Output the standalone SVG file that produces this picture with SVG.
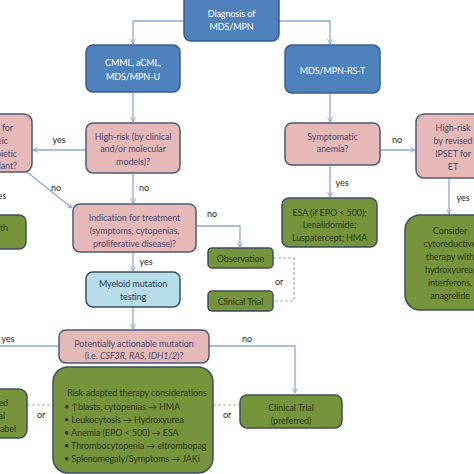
<svg xmlns="http://www.w3.org/2000/svg" width="474" height="474" viewBox="0 0 474 474">
<defs>
<style>
text{font-family:Lato,"Liberation Sans",sans-serif;font-size:9px;letter-spacing:-0.1px}
.blue rect{fill:#4F81BD;stroke:#385D8A;stroke-width:1.5}
.blue text{fill:#fff;text-anchor:middle}
.pink rect{fill:#E6B9B8;stroke:#4B5A78;stroke-width:1.5}
.pink text{fill:#54496E;text-anchor:middle}
.green rect{fill:#77933C;stroke:#3D4F5E;stroke-width:1.5}
.green text{fill:#273A10;text-anchor:middle}
.lblue rect{fill:#B7DDE8;stroke:#3D4F5E;stroke-width:1.5}
.lblue text{fill:#1F3A5F;text-anchor:middle}
.end{text-anchor:end !important}
.arr{fill:none;stroke:#8EA8D2;stroke-width:1.3;marker-end:url(#ah)}
.dash{fill:none;stroke:#A6A6A6;stroke-width:1.2;stroke-dasharray:3 2}
.lbl{fill:#262626;text-anchor:middle}
</style>
<marker id="ah" viewBox="0 0 10 10" refX="9" refY="5" markerWidth="6" markerHeight="6" orient="auto" markerUnits="userSpaceOnUse">
<path d="M1,1 L9,5 L1,9" fill="none" stroke="#8EA8D2" stroke-width="1.6"/>
</marker>
</defs>
<rect width="474" height="474" fill="#fff"/>

<g id="connectors">
<path class="arr" d="M184,21 H133 V44"/>
<path class="arr" d="M279,21 H330 V44"/>
<path class="arr" d="M133,92 V122"/>
<path class="arr" d="M86,150 H33"/>
<text class="lbl" x="59" y="143">yes</text>
<path class="arr" d="M27,172 L72,208"/>
<text class="lbl" x="56" y="191">no</text>
<text class="lbl end" x="6" y="199">yes</text>
<path class="arr" d="M133,173 V203"/>
<text class="lbl" x="144" y="191">no</text>
<path class="arr" d="M196,226 H240 V247"/>
<text class="lbl" x="212" y="217">no</text>
<path class="dash" d="M273,258 H294 V301 H273"/>
<text class="lbl" x="279" y="285">or</text>
<path class="arr" d="M133,252 V271"/>
<text class="lbl" x="146" y="265">yes</text>
<path class="arr" d="M133,307 V329"/>
<path class="arr" d="M59,346 H-5"/>
<text class="lbl" x="8" y="342">yes</text>
<path class="arr" d="M209,346 H295 V393"/>
<text class="lbl" x="247" y="342">no</text>
<path class="dash" d="M27,405 H53"/>
<text class="lbl" x="41" y="418">or</text>
<path class="dash" d="M213,405 H240"/>
<text class="lbl" x="227" y="418">or</text>
<path class="arr" d="M330,93 V122"/>
<path class="arr" d="M380,150 H415"/>
<text class="lbl" x="397" y="143">no</text>
<path class="arr" d="M330,165 V197"/>
<text class="lbl" x="342" y="186">yes</text>
<path class="arr" d="M449,178 V214"/>
<text class="lbl" x="463" y="201">yes</text>
</g>

<g id="diagnosis" class="blue"><rect x="184" y="-8" width="95" height="49" rx="7"/>
<text x="231.5" y="16.5">Diagnosis of</text><text x="231.5" y="29.5">MDS/MPN</text></g>

<g id="cmml" class="blue"><rect x="86" y="45" width="94" height="47" rx="7"/>
<text x="133" y="65.5">CMML, aCML,</text><text x="133" y="79.5">MDS/MPN-U</text></g>

<g id="rst" class="blue"><rect x="285" y="45" width="95" height="48" rx="7"/>
<text x="332.5" y="73.5">MDS/MPN-RS-T</text></g>

<g id="highrisk" class="pink"><rect x="86" y="123" width="94" height="50" rx="7"/>
<text x="133" y="139.5">High-risk (by clinical</text><text x="133" y="151.5">and/or molecular</text><text x="133" y="164.5">models)?</text></g>

<g id="transplant" class="pink"><rect x="-40" y="114" width="72" height="58" rx="8"/>
<text class="end" x="13" y="130.5">Candidate for</text><text class="end" x="8" y="143.5">allogeneic</text><text class="end" x="17" y="156.5">hematopoietic</text><text class="end" x="17" y="168.5">transplant?</text></g>

<g id="transplantyes" class="green"><rect x="-40" y="215" width="66" height="34" rx="7"/>
<text class="end" x="8" y="230.5">Proceed with</text></g>

<g id="indication" class="pink"><rect x="73" y="204" width="123" height="48" rx="7"/>
<text x="134.5" y="220.5">Indication for treatment</text><text x="134.5" y="233.5">(symptoms, cytopenias,</text><text x="134.5" y="246.5">proliferative disease)?</text></g>

<g id="observation" class="green"><rect x="208" y="248" width="65" height="20" rx="4"/>
<text x="240.5" y="261.5">Observation</text></g>

<g id="clinicaltrial" class="green"><rect x="208" y="291" width="65" height="20" rx="4"/>
<text x="240.5" y="304.5">Clinical Trial</text></g>

<g id="myeloid" class="lblue"><rect x="86" y="272" width="94" height="35" rx="7"/>
<text x="133" y="286.5">Myeloid mutation</text><text x="133" y="299.5">testing</text></g>

<g id="actionable" class="pink"><rect x="59" y="330" width="150" height="33" rx="7"/>
<text x="134" y="346.5">Potentially actionable mutation</text>
<text x="134" y="358.5">(i.e. <tspan font-style="italic">CSF3R</tspan>, <tspan font-style="italic">RAS</tspan>, <tspan font-style="italic">IDH1/2</tspan>)?</text></g>

<g id="targeted" class="green"><rect x="-40" y="389" width="67" height="49" rx="8"/>
<text class="end" x="8" y="405.5">Targeted</text><text class="end" x="5" y="418.5">therapy on trial</text><text class="end" x="16" y="431.5">or off-label</text></g>

<g id="riskadapted" class="green"><rect x="53" y="367" width="160" height="106" rx="15"/>
<text x="137" y="395.5">Risk-adapted therapy considerations</text>
<text style="text-anchor:start" x="64" y="410">• ↑blasts, cytopenias → HMA</text>
<text style="text-anchor:start" x="64" y="423">• Leukocytosis → Hydroxyurea</text>
<text style="text-anchor:start" x="64" y="436">• Anemia (EPO &lt; 500) → ESA</text>
<text style="text-anchor:start" x="64" y="449">• Thrombocytopenia → eltrombopag</text>
<text style="text-anchor:start" x="64" y="462">• Splenomegaly/Symptoms → JAKi</text></g>

<g id="ctpreferred" class="green"><rect x="240" y="395" width="102" height="33" rx="7"/>
<text x="291" y="410.5">Clinical Trial</text><text x="291" y="423.5">(preferred)</text></g>

<g id="symptomatic" class="pink"><rect x="285" y="123" width="95" height="42" rx="7"/>
<text x="332.5" y="140">Symptomatic</text><text x="332.5" y="152">anemia?</text></g>

<g id="esa" class="green"><rect x="282" y="198" width="95" height="49" rx="7"/>
<text x="329.5" y="215.5">ESA (if EPO &lt; 500);</text><text x="329.5" y="227.5">Lenalidomide;</text><text x="329.5" y="240.5">Luspatercept; HMA</text></g>

<g id="ipset" class="pink"><rect x="416" y="114" width="76" height="64" rx="8"/>
<text x="453" y="130.5">High-risk</text><text x="453" y="143.5">by revised</text><text x="453" y="156.5">IPSET for</text><text x="453" y="169.5">ET</text></g>

<g id="consider" class="green"><rect x="405" y="215" width="100" height="95" rx="15"/>
<text x="450" y="233.5">Consider</text><text x="450" y="246.5">cytoreductive</text><text x="450" y="259.5">therapy with</text><text x="450" y="272.5">hydroxyurea,</text><text x="450" y="285.5">interferons,</text><text x="450" y="298.5">anagrelide</text></g>
</svg>
